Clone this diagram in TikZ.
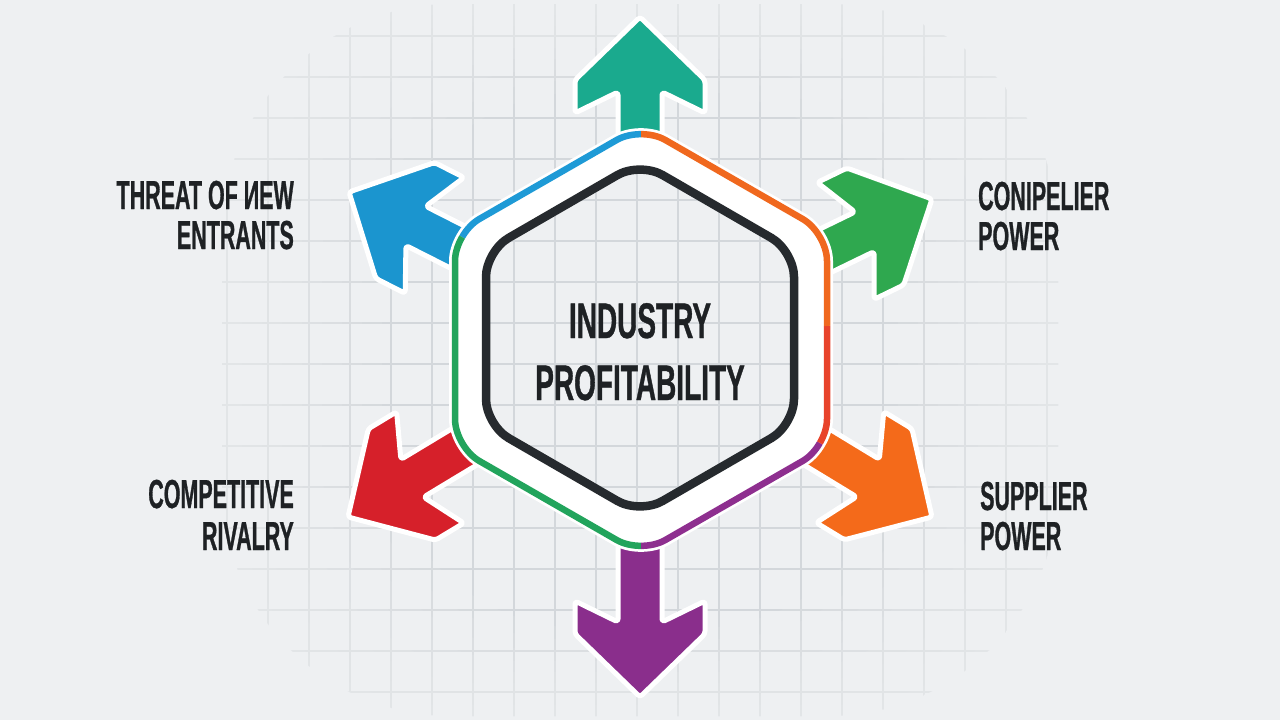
\documentclass[tikz,border=0pt]{standalone}
\usepackage{fontspec}
\newfontfamily\lblfont[FakeStretch=0.53,FakeBold=0.7]{Liberation Sans}
\newfontfamily\ctrfont[FakeStretch=0.56,FakeBold=0.7]{Liberation Sans}
\definecolor{bgc}{HTML}{EEF0F2}
\definecolor{gridc}{HTML}{D3D7DB}
\definecolor{ink}{HTML}{1E2124}
\definecolor{cteal}{HTML}{1AAA8E}
\definecolor{cblue}{HTML}{1B95CF}
\definecolor{cgreen}{HTML}{2FA84F}
\definecolor{cred}{HTML}{D6202A}
\definecolor{corange}{HTML}{F46A1A}
\definecolor{cpurple}{HTML}{8A2E8C}
\definecolor{rblue}{HTML}{1E9AD6}
\definecolor{rgreen}{HTML}{22A45C}
\definecolor{rpurple}{HTML}{8E2F8F}
\definecolor{rorange}{HTML}{F0681E}
\definecolor{rred}{HTML}{E8432B}
\definecolor{hexdark}{HTML}{262A2E}
\newcommand{\forcearrow}[4]{%
  \begin{scope}[shift={#1}, rotate=#2]
    \filldraw[arrowbody, fill=#4] (0,0) -- (-63,65) -- (-96,65) -- (-75,22) -- (-#3,22) -- (-#3,-22) -- (-75,-22) -- (-96,-65) -- (-63,-65) -- cycle;
  \end{scope}}
\begin{document}
\begin{tikzpicture}[x=1pt,y=-1pt,
  gridline/.style={draw=gridc, line width=1.6pt},
  gridfade/.style={fill=bgc, opacity=0.13, even odd rule},
  arrowbody/.style={draw=white, line width=5pt, line join=round, rounded corners=3pt},
  ringline/.style={line width=6.5pt, rounded corners=28pt},
  lbl/.style={font=\lblfont\bfseries\fontsize{40.5}{48}\selectfont, text=ink, inner sep=0pt},
  ctr/.style={font=\ctrfont\bfseries\fontsize{50}{60}\selectfont, text=ink, inner sep=0pt}]
\useasboundingbox (0,0) rectangle (1280,720);
\fill[bgc] (0,0) rectangle (1280,720);
% grid
\begin{scope}
  \clip[rounded corners=230pt] (222,4) rectangle (1058,716);
  \foreach \gx in {227,268,...,1047} \draw[gridline] (\gx,0) -- (\gx,720);
  \foreach \gy in {36,77,...,692} \draw[gridline] (0,\gy) -- (1280,\gy);
\end{scope}
\foreach \k in {1,...,8} {
  \fill[gridfade] (190,-20) rectangle (1090,740)
    [rounded corners=200pt] ({222+20*\k},{4+11*\k}) rectangle ({1058-20*\k},{716-11*\k});
}
% coordinates
\coordinate (C) at (641,340);
\coordinate (o1) at (641,126); \coordinate (o2) at (827,233); \coordinate (o3) at (827,447);
\coordinate (o4) at (641,554); \coordinate (o5) at (455,447); \coordinate (o6) at (455,233);
\coordinate (i1) at (640,162); \coordinate (i2) at (794,251); \coordinate (i3) at (794,425);
\coordinate (i4) at (640,514); \coordinate (i5) at (486,425); \coordinate (i6) at (486,251);
% arrows
\forcearrow{(640,17)}{90}{128}{cteal}
\forcearrow{(640,697)}{270}{162}{cpurple}
\forcearrow{(349,192)}{153.1}{132}{cblue}
\forcearrow{(932,199)}{25.9}{128}{cgreen}
\forcearrow{(348,517)}{211.1}{147}{cred}
\forcearrow{(932,517)}{328.7}{146}{corange}
% white band
\fill[white, even odd rule, rounded corners=28pt]
  (o1) -- (o2) -- (o3) -- (o4) -- (o5) -- (o6) -- cycle
  (i1) -- (i2) -- (i3) -- (i4) -- (i5) -- (i6) -- cycle;
\draw[ringline, white, line width=12pt] (o1) -- (o2) -- (o3) -- (o4) -- (o5) -- (o6) -- cycle;
% coloured ring
\begin{scope}
  \clip (C) -- (641,-400) -- (-289,-195) -- cycle;
  \draw[ringline, rblue] (o1) -- (o2) -- (o3) -- (o4) -- (o5) -- (o6) -- cycle;
\end{scope}
\begin{scope}
  \clip (C) -- (-289,-195) -- (-400,1200) -- (641,1200) -- cycle;
  \draw[ringline, rgreen] (o1) -- (o2) -- (o3) -- (o4) -- (o5) -- (o6) -- cycle;
\end{scope}
\begin{scope}
  \clip (C) -- (641,1200) -- (1571,875) -- cycle;
  \draw[ringline, rpurple] (o1) -- (o2) -- (o3) -- (o4) -- (o5) -- (o6) -- cycle;
\end{scope}
\begin{scope}
  \clip (C) -- (1571,875) -- (1700,260) -- cycle;
  \draw[ringline, rred] (o1) -- (o2) -- (o3) -- (o4) -- (o5) -- (o6) -- cycle;
\end{scope}
\begin{scope}
  \clip (C) -- (1700,260) -- (1700,-400) -- (641,-400) -- cycle;
  \draw[ringline, rorange] (o1) -- (o2) -- (o3) -- (o4) -- (o5) -- (o6) -- cycle;
\end{scope}
% inner hexagon
\draw[hexdark, line width=8.5pt, rounded corners=26pt] (i1) -- (i2) -- (i3) -- (i4) -- (i5) -- (i6) -- cycle;
% texts
\node[ctr, anchor=base] (ctr1) at (640,338) {INDUSTRY};
\node[ctr, anchor=base] (ctr2) at (640,400) {PROFITABILITY};
\node[lbl, anchor=base east] (threat1) at (294,209) {THREAT OF ИEW};
\node[lbl, anchor=base east] (threat2) at (294,249) {ENTRANTS};
\node[lbl, anchor=base west] (comp1) at (978,210) {CONIPELIER};
\node[lbl, anchor=base west] (comp2) at (978,250) {POWER};
\node[lbl, anchor=base east] (rival1) at (294,508) {COMPETITIVE};
\node[lbl, anchor=base east] (rival2) at (294,550) {RIVALRY};
\node[lbl, anchor=base west] (supp1) at (980,510) {SUPPLIER};
\node[lbl, anchor=base west] (supp2) at (980,550) {POWER};
\end{tikzpicture}
\end{document}
